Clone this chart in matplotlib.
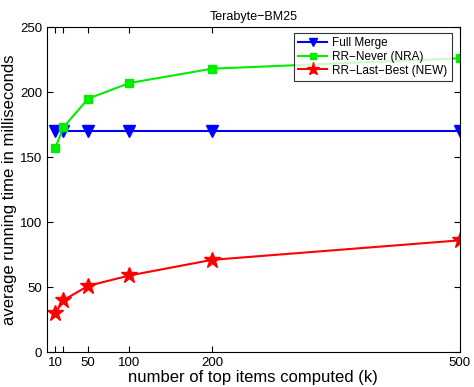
import matplotlib
matplotlib.use("Agg")
import matplotlib.pyplot as plt

# top-k values and running times (ms)
k = [10, 20, 50, 100, 200, 500]
full_merge = [170, 170, 170, 170, 170, 170]
rr_never = [157, 173, 195, 207, 218, 226]
rr_last_best = [30, 40, 51, 59, 71, 86]

xticks = [10, 20, 50, 100, 200, 500]
xticklabels = ["10", "", "50", "100", "200", "500"]

plt.rcParams['font.family'] = ['Liberation Sans', 'DejaVu Sans']

fig = plt.figure(figsize=(4.74, 3.87), dpi=100)
ax = fig.add_axes([0.099, 0.090, 0.871, 0.840])

ax.plot(k, full_merge, color='#0000ff', marker='v', markersize=8, lw=1.5, label='Full Merge')
ax.plot(k, rr_never, color='#00ee00', marker='s', markersize=6, lw=1.5, label='RR\u2212Never (NRA)')
ax.plot(k, rr_last_best, color='#ff0000', marker='*', markersize=12, lw=1.5, label='RR\u2212Last\u2212Best (NEW)')

ax.set_xlim(0, 500)
ax.set_ylim(0, 250)
ax.set_xticks(xticks)
ax.set_xticklabels(xticklabels)
ax.set_yticks([0, 50, 100, 150, 200, 250])
ax.tick_params(direction='in', labelsize=9.5, top=True, right=True, length=4)

ax.set_xlabel('number of top items computed (k)', fontsize=12, labelpad=1)
ax.set_ylabel('average running time in milliseconds', fontsize=12, labelpad=2)
ax.set_title('Terabyte\u2212BM25', fontsize=9, pad=5)

leg = ax.legend(loc='upper right', fontsize=8.5, fancybox=False, edgecolor='black',
                handlelength=2.5, handletextpad=0.4, borderpad=0.35, labelspacing=0.15,
                markerscale=0.8, borderaxespad=0, bbox_to_anchor=(0.98, 0.982))
leg.get_frame().set_linewidth(0.8)

fig.savefig('out.png', dpi=100)
